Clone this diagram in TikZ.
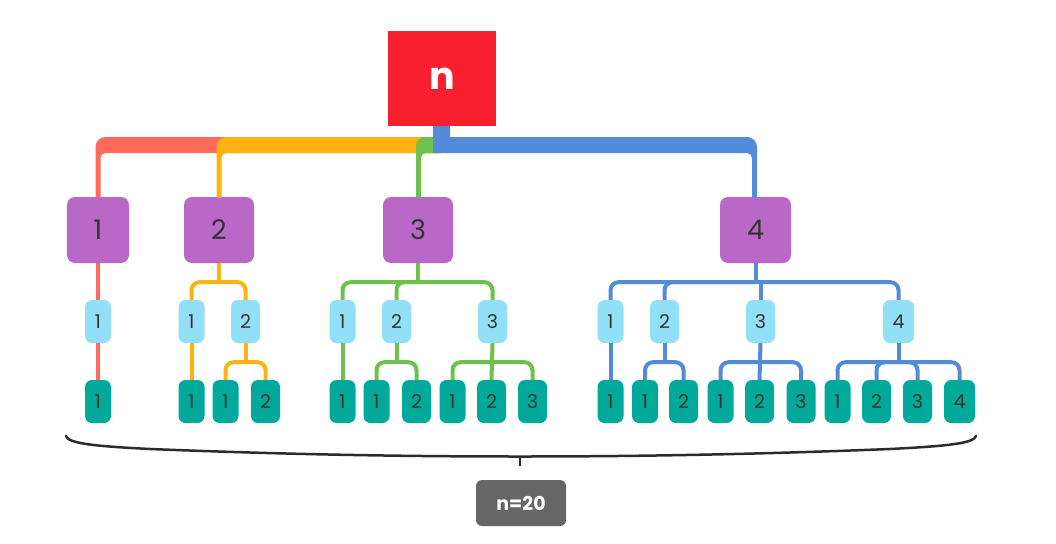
\documentclass[tikz,border=0pt]{standalone}
\usepackage{fontspec}
\setmainfont{Poppins}
\definecolor{rootred}{HTML}{F8202F}
\definecolor{bred}{HTML}{FF6B5B}
\definecolor{byel}{HTML}{FFB310}
\definecolor{bgrn}{HTML}{6CC24A}
\definecolor{bblu}{HTML}{528BD7}
\definecolor{purp}{HTML}{B968C7}
\definecolor{lblu}{HTML}{92DFF8}
\definecolor{tealx}{HTML}{00A99A}
\definecolor{txt}{HTML}{333333}
\definecolor{lgrey}{HTML}{666666}
\definecolor{brc}{HTML}{2B2B2B}
\begin{document}
\begin{tikzpicture}[x=1pt,y=-1pt,
 rootbox/.style={fill=rootred, minimum width=108pt, minimum height=95pt, inner sep=0pt, text=white, font=\fontsize{38}{40}\selectfont\bfseries},
 lvlone/.style={fill=purp, rounded corners=8pt, minimum height=66pt, inner sep=0pt, text=txt, font=\fontsize{27}{30}\selectfont},
 lvltwo/.style={fill=lblu, rounded corners=7pt, minimum height=43pt, minimum width=26pt, inner sep=0pt, text=txt, font=\fontsize{19}{21}\selectfont},
 lvlthree/.style={lvltwo, fill=tealx},
 wide/.style={minimum width=29pt},
 conn/.style={line width=4pt, rounded corners=8pt},
 stem/.style={line width=4pt},
 tagbox/.style={fill=lgrey, rounded corners=6pt, minimum width=90pt, minimum height=46pt, inner sep=0pt, text=white, font=\fontsize{19}{21}\selectfont\bfseries}]
\useasboundingbox (0,0) rectangle (1056,543);

% root
\node[rootbox] (root) at (442,78.5) {n};

% level 1
\node[lvlone, minimum width=62pt] (n1) at (98,230) {1};
\node[lvlone, minimum width=70pt] (n2) at (219,230) {2};
\node[lvlone, minimum width=70pt] (n3) at (418,230) {3};
\node[lvlone, minimum width=71pt] (n4) at (755.5,230) {4};

% level 2
\node[lvltwo] (a1) at (98,321.5) {1};
\node[lvltwo] (b1) at (191.5,321.5) {1};
\node[lvltwo, wide] (b2) at (245.5,321.5) {2};
\node[lvltwo] (c1) at (342.5,321.5) {1};
\node[lvltwo, wide] (c2) at (396.5,321.5) {2};
\node[lvltwo, wide] (c3) at (492.5,321.5) {3};
\node[lvltwo] (d1) at (610.5,321.5) {1};
\node[lvltwo, wide] (d2) at (664.5,321.5) {2};
\node[lvltwo, wide] (d3) at (760.5,321.5) {3};
\node[lvltwo, minimum width=31pt] (d4) at (898.5,321.5) {4};

% level 3
\node[lvlthree] (a11) at (98,401.5) {1};
\node[lvlthree] (b11) at (191.5,401.5) {1};
\node[lvlthree] (b21) at (225.5,401.5) {1};
\node[lvlthree, wide] (b22) at (265.5,401.5) {2};
\node[lvlthree] (c11) at (342.5,401.5) {1};
\node[lvlthree] (c21) at (376.5,401.5) {1};
\node[lvlthree, wide] (c22) at (416.5,401.5) {2};
\node[lvlthree] (c31) at (452.5,401.5) {1};
\node[lvlthree, wide] (c32) at (491.5,401.5) {2};
\node[lvlthree, wide] (c33) at (532.5,401.5) {3};
\node[lvlthree] (d11) at (610.5,401.5) {1};
\node[lvlthree] (d21) at (645,401.5) {1};
\node[lvlthree, wide] (d22) at (683.5,401.5) {2};
\node[lvlthree] (d31) at (720.5,401.5) {1};
\node[lvlthree, wide] (d32) at (759.5,401.5) {2};
\node[lvlthree, wide] (d33) at (801,401.5) {3};
\node[lvlthree] (d41) at (837.5,401.5) {1};
\node[lvlthree, wide] (d42) at (876.5,401.5) {2};
\node[lvlthree, wide] (d43) at (917.5,401.5) {3};
\node[lvlthree, minimum width=31pt] (d44) at (959.5,401.5) {4};

% top bus (root to level 1)
\fill[bred] (95.5,197.5) -- (95.5,147) .. controls (95.5,141.5) and (100,137) .. (105.5,137) -- (441,137) -- (441,153) -- (105.5,153) .. controls (102.7,153) and (100.5,155.2) .. (100.5,158) -- (100.5,197.5) -- cycle;
\fill[byel] (216.5,197.5) -- (216.5,147) .. controls (216.5,141.5) and (221,137) .. (226.5,137) -- (441,137) -- (441,153) -- (226.5,153) .. controls (223.7,153) and (221.5,155.2) .. (221.5,158) -- (221.5,197.5) -- cycle;
\fill[bgrn] (416,197.5) -- (416,146) .. controls (416,141) and (420,137) .. (425,137) -- (441,137) -- (441,153) -- (426,153) .. controls (423.2,153) and (421,155.2) .. (421,158) -- (421,197.5) -- cycle;
\fill[bblu] (757,197.5) -- (757,147) .. controls (757,141.5) and (752.5,137) .. (747,137) -- (450,137) -- (450,126) -- (433,126) -- (433,153) -- (747,153) .. controls (749.8,153) and (752,155.2) .. (752,158) -- (752,197.5) -- cycle;

% level 1 -> level 2
\draw[stem, bred] (n1.south) -- (a1.north);
\draw[stem, byel] (n2.south) -- ++(0,21);
\draw[conn, byel] (n2.south) ++(0,19) -| (b1.north);
\draw[conn, byel] (n2.south) ++(0,19) -| (b2.north);
\draw[stem, bgrn] (n3.south) -- ++(0,21);
\draw[conn, bgrn] (n3.south) ++(0,19) -| (c1.north);
\draw[conn, bgrn] (n3.south) ++(0,19) -| (c2.north);
\draw[conn, bgrn] (n3.south) ++(0,19) -| (c3.north);
\draw[stem, bblu] (n4.south) -- ++(0,21);
\draw[conn, bblu] (n4.south) ++(0,19) -| (d1.north);
\draw[conn, bblu] (n4.south) ++(0,19) -| (d2.north);
\draw[stem, bblu] (n4.south) ++(0,19) -| (d3.north);
\draw[conn, bblu] (n4.south) ++(0,19) -| (d4.north);

% level 2 -> level 3
\draw[stem, bred] (a1.south) -- (a11.north);
\draw[stem, byel] (b1.south) -- (b11.north);
\draw[stem, byel] (b2.south) -- ++(0,21);
\draw[conn, byel] (b2.south) ++(0,19) -| (b21.north);
\draw[conn, byel] (b2.south) ++(0,19) -| (b22.north);
\draw[stem, bgrn] (c1.south) -- (c11.north);
\draw[stem, bgrn] (c2.south) -- ++(0,21);
\draw[conn, bgrn] (c2.south) ++(0,19) -| (c21.north);
\draw[conn, bgrn] (c2.south) ++(0,19) -| (c22.north);
\draw[stem, bgrn] (c3.south) -- (c32.north);
\draw[conn, bgrn] (c3.south) ++(0,19) -| (c31.north);
\draw[conn, bgrn] (c3.south) ++(0,19) -| (c33.north);
\draw[stem, bblu] (d1.south) -- (d11.north);
\draw[stem, bblu] (d2.south) -- ++(0,21);
\draw[conn, bblu] (d2.south) ++(0,19) -| (d21.north);
\draw[conn, bblu] (d2.south) ++(0,19) -| (d22.north);
\draw[stem, bblu] (d3.south) -- (d32.north);
\draw[conn, bblu] (d3.south) ++(0,19) -| (d31.north);
\draw[conn, bblu] (d3.south) ++(0,19) -| (d33.north);
\draw[stem, bblu] (d4.south) -- ++(0,21);
\draw[conn, bblu] (d4.south) ++(0,19) -| (d41.north);
\draw[conn, bblu] (d4.south) ++(0,19) -| (d42.north);
\draw[conn, bblu] (d4.south) ++(0,19) -| (d43.north);
\draw[conn, bblu] (d4.south) ++(0,19) -| (d44.north);

% brace and total
\draw[brc, line width=2.5pt, line cap=round] (66,436) .. controls (68,443) and (90,446) .. (150,449) .. controls (300,455) and (420,456.5) .. (520,456.5) .. controls (620,456.5) and (740,455) .. (890,449) .. controls (950,446) and (974,443) .. (976,436);
\coordinate (tick) at (520,466);
\node[tagbox] (total) at (521,503) {n=20};
\draw[brc, line width=2.5pt] (520,456) -- (tick);
\end{tikzpicture}
\end{document}
